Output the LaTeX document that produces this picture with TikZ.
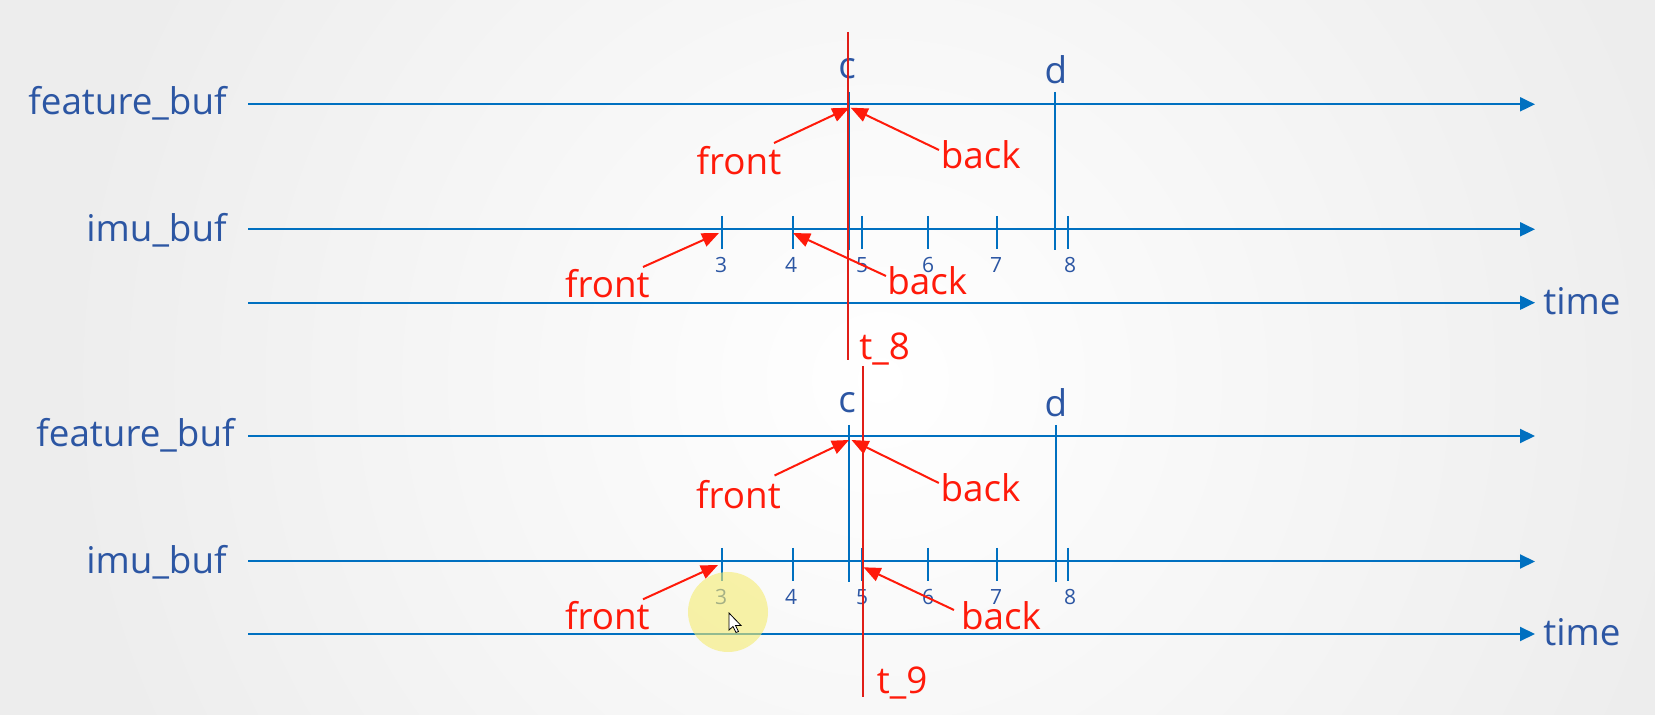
\documentclass[tikz,border=0pt]{standalone}
\usepackage{fontspec}
\setmainfont{Open Sans}
\usetikzlibrary{arrows.meta}
\definecolor{axisblue}{HTML}{0070C0}
\definecolor{txtblue}{HTML}{2C56A3}
\definecolor{redtxt}{HTML}{FF1A0A}
\definecolor{redline}{HTML}{E01E18}
\definecolor{bgout}{HTML}{EDEDED}
\definecolor{hilite}{HTML}{F5EC70}
\begin{document}
\begin{tikzpicture}[x=0.5pt,y=-0.5pt,
  axis/.style={draw=axisblue, line width=1pt, -{Triangle[length=7.5pt,width=7pt]}},
  tickmark/.style={draw=axisblue, line width=1pt},
  lbl/.style={text=txtblue, font=\fontsize{18.4}{20}\selectfont, inner sep=0pt},
  rlbl/.style={text=redtxt, font=\fontsize{18.4}{20}\selectfont, inner sep=0pt},
  num/.style={text=txtblue, font=\fontsize{10.5}{12}\selectfont, inner sep=0pt, anchor=base},
  ptr/.style={draw=redtxt, line width=1pt, -{Triangle[length=8.5pt,width=7pt]}},
  tline/.style={draw=redline, line width=1pt}]
% background
\useasboundingbox (0,0) rectangle (1655,715);
\begin{scope}
\clip (0,0) rectangle (1655,715);
\fill[bgout] (0,0) rectangle (1655,715);
\shade[inner color=white, outer color=bgout] (880,380) circle[radius=410pt];
\end{scope}

% ===== Panel 1 =====
\coordinate (f1s) at (248,104.3); \coordinate (f1e) at (1535,104.3);
\coordinate (i1s) at (248,229.3); \coordinate (i1e) at (1535,229.3);
\coordinate (t1s) at (248,302.7); \coordinate (t1e) at (1535,302.7);
\draw[axis] (f1s) -- (f1e);
\draw[axis] (i1s) -- (i1e);
\draw[axis] (t1s) -- (t1e);
\node[lbl, anchor=base east] (fb1) at (227,115) {feature\_buf};
\node[lbl, anchor=base east] (ib1) at (227,241.7) {imu\_buf};
\node[lbl, anchor=base west] (tm1) at (1543,315) {time};
% c and d
\coordinate (c1t) at (849,92); \coordinate (c1b) at (849,250);
\coordinate (d1t) at (1055.3,92); \coordinate (d1b) at (1055.3,250);
\draw[tickmark] (c1t) -- (c1b);
\draw[tickmark] (d1t) -- (d1b);
\node[lbl, anchor=base] (c1) at (847,79) {c};
\node[lbl, anchor=base] (d1) at (1056,84) {d};
% imu ticks
\foreach \x/\n/\lx in {722/3/721, 792.7/4/791, 862/5/862, 928/6/928, 996.7/7/996, 1068/8/1070}{
  \coordinate (k1a\n) at (\x,216); \coordinate (k1b\n) at (\x,249);
  \draw[tickmark] (k1a\n) -- (k1b\n);
  \node[num] (n1\n) at (\lx,272.7) {\n};
}
% red time line
\coordinate (r1t) at (847.7,32); \coordinate (r1b) at (847.7,360);
\draw[tline] (r1t) -- (r1b);
\node[rlbl, anchor=base west] (t8) at (859,360) {t\_8};
% pointers
\node[rlbl, anchor=base] (fr1) at (739,175) {front};
\node[rlbl, anchor=base] (bk1) at (980.7,168.3) {back};
\node[rlbl, anchor=base east] (fr1l) at (650,298) {front};
\node[rlbl, anchor=base west] (bk1l) at (887,295) {back};
\coordinate (pf1s) at (774,143); \coordinate (pf1e) at (849.3,107.7);
\coordinate (pb1s) at (939,150); \coordinate (pb1e) at (850.7,107.7);
\coordinate (qf1s) at (643,267); \coordinate (qf1e) at (719,233);
\coordinate (qb1s) at (886,276); \coordinate (qb1e) at (793,233);
\draw[ptr] (pf1s) -- (pf1e);
\draw[ptr] (pb1s) -- (pb1e);
\draw[ptr] (qf1s) -- (qf1e);
\draw[ptr] (qb1s) -- (qb1e);

% ===== Panel 2 =====
\coordinate (f2s) at (248,436); \coordinate (f2e) at (1535,436);
\coordinate (i2s) at (248,561.5); \coordinate (i2e) at (1535,561.5);
\coordinate (t2s) at (248,634); \coordinate (t2e) at (1535,634);
\draw[axis] (f2s) -- (f2e);
\draw[axis] (i2s) -- (i2e);
\draw[axis] (t2s) -- (t2e);
\node[lbl, anchor=base east] (fb2) at (235,447) {feature\_buf};
\node[lbl, anchor=base east] (ib2) at (227,574) {imu\_buf};
\node[lbl, anchor=base west] (tm2) at (1543,646) {time};
\coordinate (c2t) at (848.6,425); \coordinate (c2b) at (848.6,582);
\coordinate (d2t) at (1055.5,425); \coordinate (d2b) at (1055.5,582);
\draw[tickmark] (c2t) -- (c2b);
\draw[tickmark] (d2t) -- (d2b);
\node[lbl, anchor=base] (c2) at (847,413) {c};
\node[lbl, anchor=base] (d2) at (1056,416.5) {d};
\foreach \x/\n/\lx in {722/3/721, 792.7/4/791, 862/5/862, 928/6/928, 996.7/7/996, 1068/8/1070}{
  \coordinate (k2a\n) at (\x,548); \coordinate (k2b\n) at (\x,581.5);
  \draw[tickmark] (k2a\n) -- (k2b\n);
  \node[num] (n2\n) at (\lx,605) {\n};
}
\coordinate (r2t) at (863,366); \coordinate (r2b) at (863,697);
\draw[tline] (r2t) -- (r2b);
\node[rlbl, anchor=base west] (t9) at (876.5,693.3) {t\_9};
\node[rlbl, anchor=base] (fr2) at (738.5,508.3) {front};
\node[rlbl, anchor=base] (bk2) at (980.5,501.5) {back};
\node[rlbl, anchor=base east] (fr2l) at (650,629.5) {front};
\node[rlbl, anchor=base west] (bk2l) at (960.6,629.5) {back};
\coordinate (pf2s) at (774.5,475.5); \coordinate (pf2e) at (849,440);
\coordinate (pb2s) at (938.8,483); \coordinate (pb2e) at (851.5,440);
\coordinate (qf2s) at (643,599.3); \coordinate (qf2e) at (718,565);
\coordinate (qb2s) at (954,610); \coordinate (qb2e) at (863.5,567.3);
\draw[ptr] (pf2s) -- (pf2e);
\draw[ptr] (pb2s) -- (pb2e);
\draw[ptr] (qf2s) -- (qf2e);
\draw[ptr] (qb2s) -- (qb2e);

% cursor highlight and pointer
\fill[hilite, opacity=0.6] (728,612) circle[radius=20pt];
\coordinate (cur) at (729,613);
\draw[black, line width=0.4pt, fill=white, shift={(cur)}]
  (0,0) -- (0,17) -- (4,13.5) -- (7,19.5) -- (9.5,18.5) -- (6.5,12.5) -- (12,12.5) -- cycle;
\end{tikzpicture}
\end{document}
